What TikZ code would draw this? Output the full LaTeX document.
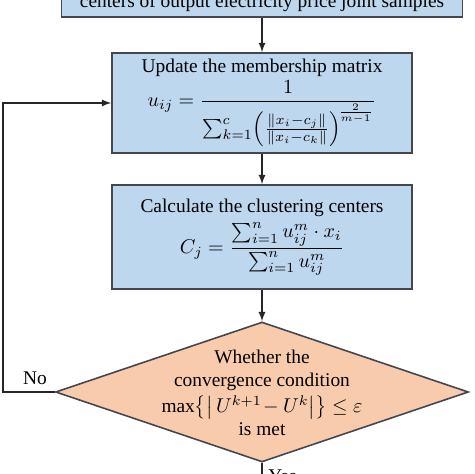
\documentclass[tikz,border=0pt]{standalone}
\usepackage{amsmath}
\usepackage{amssymb}
\usepackage{fontspec}
\setmainfont{Liberation Serif}
\usepackage{tikz}
\usetikzlibrary{shapes.geometric,arrows}

\definecolor{boxblue}{RGB}{189,215,238}
\definecolor{condorange}{RGB}{248,203,173}
\definecolor{edgegray}{RGB}{68,72,78}

\begin{document}
\begin{tikzpicture}[x=0.5pt,y=-0.5pt,
    every node/.style={font=\fontsize{9.7}{11.6}\selectfont},
    procbox/.style={rectangle,draw=edgegray,line width=0.9pt,fill=boxblue,minimum width=150pt,align=center,inner sep=1pt},
    decbox/.style={diamond,draw=edgegray,line width=0.8pt,fill=condorange,minimum width=206.5pt,minimum height=70pt,inner sep=0pt},
    flow/.style={-latex,line width=0.6pt,black!85}]
  \useasboundingbox (0,0) rectangle (474,474);
  % process boxes
  \node[procbox,minimum width=200.5pt,anchor=south,inner ysep=2.5pt](init)at(262,18){centers of output electricity price joint samples};
  \node[procbox,minimum height=50pt](upd)at(262,103){Update the membership matrix\\[1pt]
    $u_{ij}=\dfrac{1}{\sum_{k=1}^{c}\Bigl(\frac{\lVert x_i-c_j\rVert}{\lVert x_i-c_k\rVert}\Bigr)^{\!\frac{2}{m-1}}}$};
  \node[procbox,minimum height=52pt](calc)at(262,237){Calculate the clustering centers\\[2pt]
    $C_j=\dfrac{\sum_{i=1}^{n}u_{ij}^{m}\cdot x_i}{\sum_{i=1}^{n}u_{ij}^{m}}$};
  % decision
  \node[decbox](cond)at(262,392){};
  \node[align=center](condtext)at(262,393){Whether the\\convergence condition\\[1.5pt]
    $\max\bigl\{\bigl|\,U^{k+1}\!-U^{k}\bigr|\bigr\}\leq\varepsilon$\\is met};
  % connectors
  \draw[flow](init)--(upd);
  \draw[flow](upd)--(calc);
  \draw[flow](calc)--(cond);
  \coordinate(nobend)at(3,392);
  \draw[flow](cond.west)--(nobend)|-(upd.west);
  \node(nolab)at(35,378){No};
  \coordinate(yesend)at(262,490);
  \draw[line width=0.6pt,black!85](cond.south)--(yesend);
  \node[anchor=north west,inner sep=0pt](yeslab)at(268,469){Yes};
\end{tikzpicture}
\end{document}
